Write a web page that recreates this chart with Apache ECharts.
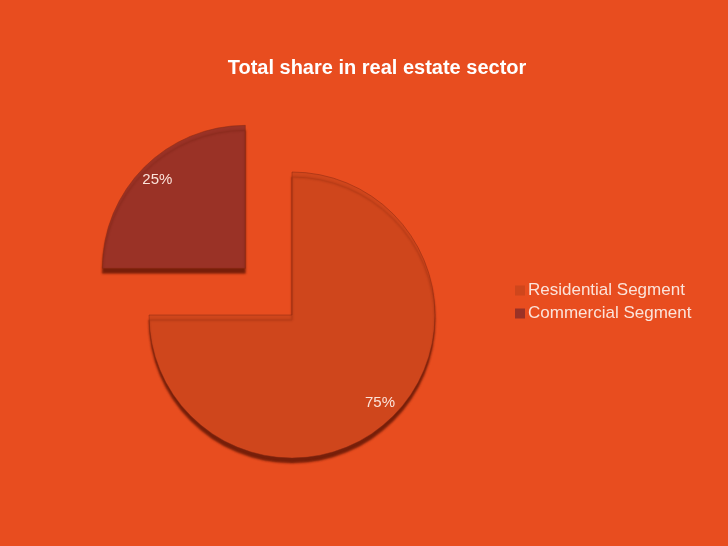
<!DOCTYPE html>
<html>
<head>
<meta charset="utf-8">
<script src="https://cdn.jsdelivr.net/npm/echarts@6/dist/echarts.min.js"></script>
<style>
  html, body { margin: 0; padding: 0; background: #e84d1f; }
  #main { width: 728px; height: 546px; }
</style>
</head>
<body>
<div id="main"></div>
<script>
const categories = ['Residential Segment', 'Commercial Segment']
const shares = [75, 25]
const colors = ['#cf461c', '#9a3226']

const chart = echarts.init(document.getElementById('main'))

const pieData = categories.map((name, i) => ({
    name: name,
    value: shares[i],
    selected: i === 1,
    itemStyle: { color: colors[i] }
}))

chart.setOption({
    backgroundColor: '#e84d1f',
    textStyle: { fontFamily: 'Liberation Sans' },
    title: {
        text: 'Total share in real estate sector',
        left: 372, top: 53, textAlign: 'center',
        textStyle: { color: '#fff', fontSize: 20, fontWeight: 'bold', fontFamily: 'Liberation Sans' }
    },
    legend: {
        orient: 'vertical',
        left: 510, top: 277,
        itemWidth: 10, itemHeight: 10, itemGap: 6,
        icon: 'rect',
        itemStyle: { borderWidth: 0 },
        data: categories,
        textStyle: { color: '#fbe3da', fontSize: 17, fontFamily: 'Liberation Sans', padding: [0, 0, 0, -2] }
    },
    series: [
        {
            type: 'pie',
            center: [292, 315],
            radius: 143,
            startAngle: 90,
            selectedMode: 'single',
            selectedOffset: 66,
            label: { show: false },
            labelLine: { show: false },
            itemStyle: {
                borderColor: '#8a2a12', borderWidth: 0.5,
                shadowColor: 'rgba(90,20,5,0.8)', shadowOffsetY: 5, shadowBlur: 2
            },
            emphasis: { disabled: true },
            data: pieData
        },
        {
            type: 'pie',
            center: [292, 315],
            radius: [100, 143],
            startAngle: 90,
            silent: true,
            selectedMode: 'single',
            selectedOffset: 66,
            itemStyle: { color: 'transparent' },
            label: {
                show: true, position: 'inside', formatter: '{d}%',
                color: '#fbe3da', fontSize: 15, fontFamily: 'Liberation Sans'
            },
            labelLine: { show: false },
            data: pieData.map(d => ({ name: d.name, value: d.value, selected: d.selected }))
        }
    ]
})

window.addEventListener('resize', () => chart && chart.resize())
</script>
</body>
</html>
